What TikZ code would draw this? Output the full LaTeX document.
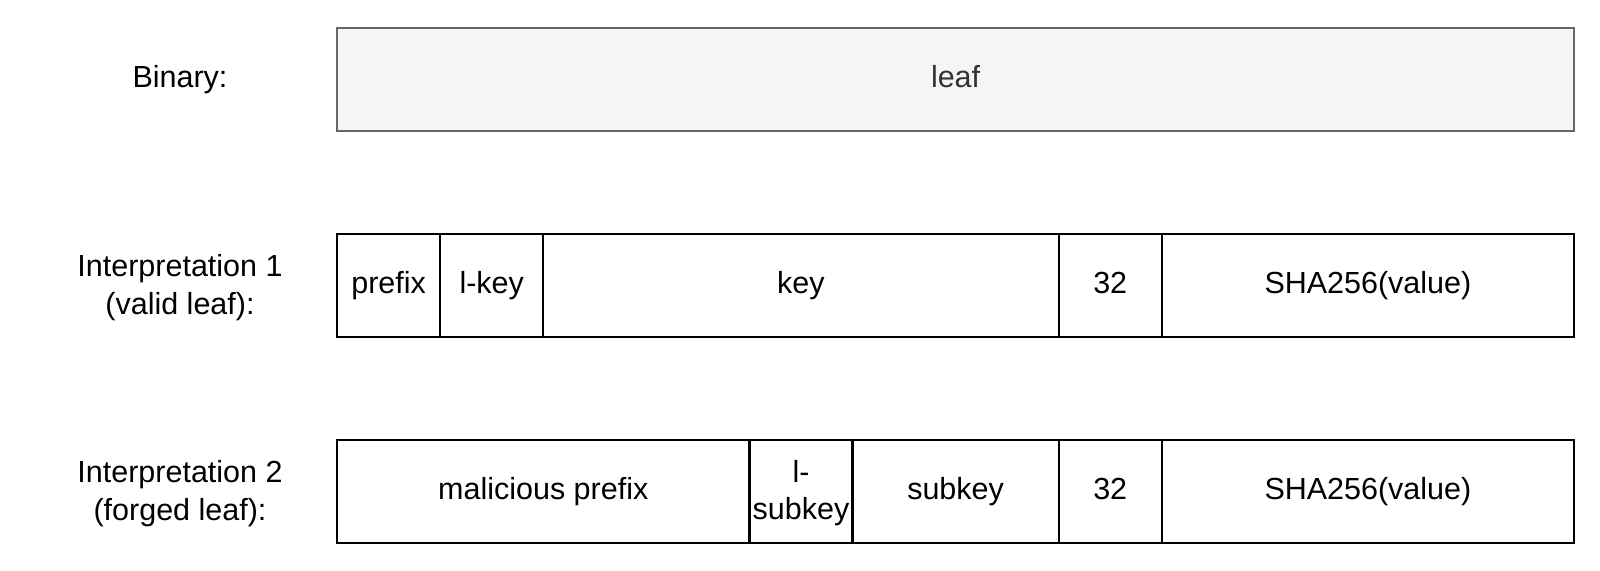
\documentclass[tikz,border=0pt]{standalone}
\usepackage{fontspec}
\setmainfont{Liberation Sans}
\begin{document}
\begin{tikzpicture}[x=1pt,y=-1pt,
  cell/.style={draw=black,line width=2.2pt,fill=white,minimum height=103pt,inner sep=0pt,anchor=north west,align=center,font=\fontsize{30.5}{37}\selectfont},
  one/.style={text height=22pt,text depth=6.5pt},
  lbl/.style={align=center,font=\fontsize{30.5}{38}\selectfont,inner sep=0pt}]
\useasboundingbox (0,0) rectangle (1600,570);
\def\u{103.08}
\node[cell,one,draw=black!60,fill=black!4,minimum width=12*\u pt] (leaf) at (336,27) {\textcolor{black!80}{leaf}};
\node[lbl] (lb0) at (180,80) {Binary:};
% row 1
\node[cell,one,minimum width=\u pt] (p1) at (336,233) {prefix};
\node[cell,one,minimum width=\u pt] (lk1) at (336+\u,233) {l-key};
\node[cell,one,minimum width=5*\u pt] (k1) at (336+2*\u,233) {key};
\node[cell,one,minimum width=\u pt] (n1) at (336+7*\u,233) {32};
\node[cell,one,minimum width=4*\u pt] (s1) at (336+8*\u,233) {SHA256(value)};
\node[lbl] (lb1) at (180,288) {Interpretation 1\\(valid leaf):};
% row 2
\node[cell,one,minimum width=4*\u pt] (p2) at (336,439) {malicious prefix};
\node[cell,minimum width=\u pt] (lk2) at (336+4*\u,439) {\rule{0pt}{26pt}l-\\subkey};
\node[cell,one,minimum width=2*\u pt] (k2) at (336+5*\u,439) {subkey};
\node[cell,one,minimum width=\u pt] (n2) at (336+7*\u,439) {32};
\node[cell,one,minimum width=4*\u pt] (s2) at (336+8*\u,439) {SHA256(value)};
\node[lbl] (lb2) at (180,494) {Interpretation 2\\(forged leaf):};
\end{tikzpicture}
\end{document}
